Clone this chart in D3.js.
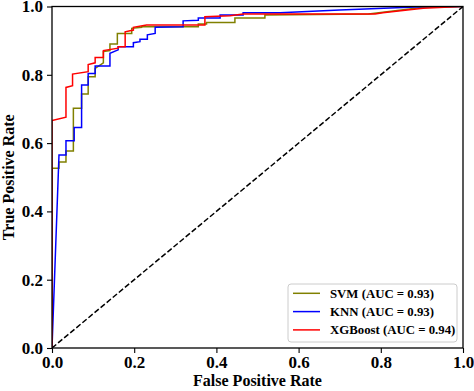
<!DOCTYPE html>
<html><head><meta charset="utf-8">
<script src="https://cdn.jsdelivr.net/npm/d3@7"></script>
<style>
body{margin:0;background:#fff}
text{font-family:"Liberation Serif","Times New Roman",serif;font-weight:bold;fill:#000}
</style>
</head><body><svg id="c" width="474" height="391"></svg>
<script>
// ROC vertices (false positive rate, true positive rate)
const svmFpr = [0,0,0.017,0.017,0.034,0.034,0.052,0.052,0.072,0.072,0.088,0.088,0.105,0.105,0.125,0.125,0.141,0.141,0.159,0.159,0.194,0.194,0.218,0.218,0.356,0.356,0.376,0.376,0.445,0.445,0.518,0.518,0.77,0.85,0.903,1];
const svmTpr = [0,0.526,0.526,0.545,0.545,0.577,0.577,0.702,0.702,0.744,0.744,0.794,0.794,0.819,0.835,0.868,0.871,0.890,0.890,0.921,0.921,0.936,0.939,0.941,0.941,0.949,0.949,0.953,0.953,0.966,0.966,0.975,0.978,0.990,0.998,1];
const knnFpr = [0,0.017,0.034,0.034,0.054,0.054,0.072,0.072,0.088,0.088,0.105,0.105,0.141,0.141,0.161,0.161,0.198,0.198,0.214,0.214,0.232,0.232,0.251,0.251,0.319,0.319,0.356,0.356,0.409,0.409,0.465,0.465,0.555,0.70,0.90,1];
const knnTpr = [0,0.565,0.565,0.607,0.607,0.646,0.646,0.770,0.770,0.804,0.804,0.826,0.826,0.863,0.873,0.882,0.882,0.894,0.897,0.904,0.904,0.917,0.921,0.939,0.941,0.958,0.960,0.966,0.966,0.975,0.975,0.982,0.982,0.990,0.999,1];
const xgbFpr = [0,0,0.034,0.034,0.050,0.050,0.088,0.088,0.105,0.105,0.125,0.125,0.161,0.161,0.178,0.178,0.198,0.198,0.230,0.372,0.372,0.433,0.465,0.786,0.805,0.854,0.903,0.993,1];
const xgbTpr = [0,0.666,0.676,0.763,0.768,0.802,0.809,0.830,0.835,0.851,0.851,0.871,0.878,0.882,0.882,0.926,0.931,0.939,0.946,0.946,0.970,0.973,0.978,0.978,0.982,0.988,0.995,1,1];
const seriesNames = ["SVM (AUC = 0.93)","KNN (AUC = 0.93)","XGBoost (AUC = 0.94)"];
const seriesColors = ["#808000","#0000ff","#ff0000"];
const tickValues = [0,0.2,0.4,0.6,0.8,1.0];

const svg = d3.select("#c");
const L=52, R=463, T=6.5, B=348;
const x = d3.scaleLinear().domain([0,1]).range([L,R]);
const y = d3.scaleLinear().domain([0,1]).range([B,T]);

svg.append("defs").append("clipPath").attr("id","clip")
  .append("rect").attr("x",L).attr("y",T).attr("width",R-L).attr("height",B-T);

const g = svg.append("g").attr("clip-path","url(#clip)");
const line = d3.line().x(d=>x(d[0])).y(d=>y(d[1]));
const series = [[svmFpr,svmTpr],[knnFpr,knnTpr],[xgbFpr,xgbTpr]];
series.forEach((s,i)=>{
  const pts = s[0].map((v,j)=>[v,s[1][j]]);
  g.append("path").attr("d",line(pts)).attr("fill","none")
   .attr("stroke",seriesColors[i]).attr("stroke-width",1.5).attr("stroke-linejoin","miter");
});
g.append("path").attr("d",line([[0,0],[1,1]])).attr("fill","none")
 .attr("stroke","#000").attr("stroke-width",1.5).attr("stroke-dasharray","5.5,2.4");

// axes
const fmt = d3.format(".1f");
const xa = svg.append("g").attr("transform",`translate(0,${B})`)
  .call(d3.axisBottom(x).tickValues(tickValues).tickFormat(fmt).tickSize(5).tickPadding(3));
const ya = svg.append("g").attr("transform",`translate(${L},0)`)
  .call(d3.axisLeft(y).tickValues(tickValues).tickFormat(fmt).tickSize(5).tickPadding(4));
[xa,ya].forEach(a=>{
  a.select(".domain").remove();
  a.selectAll(".tick line").attr("stroke","#000").attr("stroke-width",1.1);
  a.selectAll(".tick text").style("font-size","17px").style("font-family",'"Liberation Serif",serif').style("font-weight","bold");
});
svg.append("rect").attr("x",L).attr("y",T).attr("width",R-L).attr("height",B-T)
  .attr("fill","none").attr("stroke","#000").attr("stroke-width",1.3);

svg.append("text").attr("x",(L+R)/2).attr("y",386).attr("text-anchor","middle")
  .style("font-size","16px").text("False Positive Rate");
svg.append("text").attr("transform",`translate(14,${(T+B)/2}) rotate(-90)`).attr("text-anchor","middle")
  .style("font-size","16px").text("True Positive Rate");

// legend
const lg = svg.append("g");
lg.append("rect").attr("x",288).attr("y",284).attr("width",169).attr("height",58).attr("rx",3)
  .attr("fill","#fff").attr("fill-opacity",0.8).attr("stroke","#cccccc").attr("stroke-width",1);
seriesNames.forEach((n,i)=>{
  const yy = 293.3 + i*18.3;
  lg.append("line").attr("x1",293).attr("x2",320).attr("y1",yy).attr("y2",yy)
    .attr("stroke",seriesColors[i]).attr("stroke-width",1.5);
  lg.append("text").attr("x",330).attr("y",yy+4.5).style("font-size","12.8px").text(n);
});
</script></body></html>
